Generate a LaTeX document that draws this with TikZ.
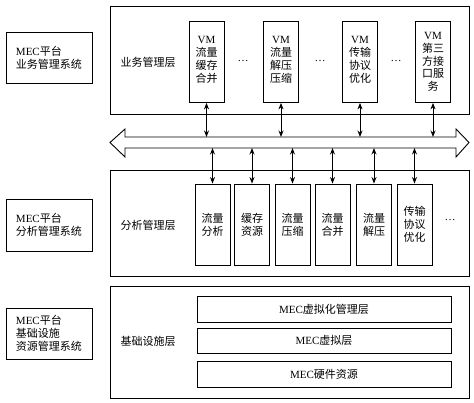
\documentclass[tikz,border=0pt]{standalone}
\usepackage{fontspec}
\setmainfont{Liberation Serif}
\newfontfamily\cjk{Noto Sans CJK SC}
\usetikzlibrary{arrows.meta}
\begin{document}
\begin{tikzpicture}[x=1pt,y=-1pt,
  box/.style={draw, line width=0.9pt, inner sep=0pt, font=\fontsize{11}{12.8}\selectfont, align=center},
  lbl/.style={font=\fontsize{11}{13}\selectfont, align=center},
  ar/.style={{Stealth[length=6.5pt,width=5pt]}-{Stealth[length=6.5pt,width=5pt]}, line width=0.9pt}]
\useasboundingbox (0,0) rectangle (474,403);
% left boxes
\node[box, minimum width=86pt, minimum height=51pt, align=left] (L1) at (49,57.5) {MEC{\cjk 平台}\\{\cjk 业务管理系统}};
\node[box, minimum width=86pt, minimum height=52pt, align=left] (L2) at (49,225) {MEC{\cjk 平台}\\{\cjk 分析管理系统}};
\node[box, minimum width=86pt, minimum height=51pt, align=left] (L3) at (49,333.5) {MEC{\cjk 平台}\\{\cjk 基础设施}\\{\cjk 资源管理系统}};
% big boxes
\node[box, minimum width=359pt, minimum height=108pt] (B1) at (289.5,60) {};
\node[box, minimum width=359pt, minimum height=106pt] (B2) at (289.5,223) {};
\node[box, minimum width=359pt, minimum height=112pt] (B3) at (289.5,342) {};
\node[lbl] (T1) at (148,62) {\cjk 业务管理层};
\node[lbl] (T2) at (148,225) {\cjk 分析管理层};
\node[lbl] (T3) at (148,341) {\cjk 基础设施层};
% VM boxes
\node[box, minimum width=35pt, minimum height=81pt, anchor=north] (v1) at (206.5,21) {\\[-10pt]VM\\\cjk 流量\\\cjk 缓存\\\cjk 合并};
\node[box, minimum width=35pt, minimum height=81pt, anchor=north] (v2) at (281,21) {\\[-10pt]VM\\\cjk 流量\\\cjk 解压\\\cjk 压缩};
\node[box, minimum width=35pt, minimum height=81pt, anchor=north] (v3) at (360,21) {\\[-10pt]VM\\\cjk 传输\\\cjk 协议\\\cjk 优化};
\node[box, minimum width=35pt, minimum height=81pt, anchor=north] (v4) at (433,21) {VM\\\cjk 第三\\\cjk 方接\\\cjk 口服\\\cjk 务};
\node[lbl] (d1) at (243,61) {\ldots};
\node[lbl] (d2) at (320,61) {\ldots};
\node[lbl] (d3) at (396,61) {\ldots};
% bus
\coordinate (bt) at (290,137);
\coordinate (bb) at (290,148);
\draw[line width=0.9pt] (110,142.5) -- (125,129) -- (125,137) -- (456,137) -- (456,129) -- (469,142.5) -- (456,157) -- (456,148) -- (125,148) -- (125,157) -- cycle;
% analysis boxes
\node[box, minimum width=35pt, minimum height=81pt] (a1) at (212.5,224.5) {\cjk 流量\\\cjk 分析};
\node[box, minimum width=35pt, minimum height=81pt] (a2) at (252,224.5) {\cjk 缓存\\\cjk 资源};
\node[box, minimum width=35pt, minimum height=81pt] (a3) at (292.5,224.5) {\cjk 流量\\\cjk 压缩};
\node[box, minimum width=35pt, minimum height=81pt] (a4) at (332.5,224.5) {\cjk 流量\\\cjk 合并};
\node[box, minimum width=35pt, minimum height=81pt] (a5) at (374,224.5) {\cjk 流量\\\cjk 解压};
\node[box, minimum width=35pt, minimum height=81pt] (a6) at (414.5,224.5) {\cjk 传输\\\cjk 协议\\\cjk 优化};
\node[lbl] (d4) at (450,220) {\ldots};
% infra boxes
\node[box, minimum width=254pt, minimum height=26pt] (i1) at (324,309) {MEC{\cjk 虚拟化管理层}};
\node[box, minimum width=254pt, minimum height=25pt] (i2) at (324,340.5) {MEC{\cjk 虚拟层}};
\node[box, minimum width=254pt, minimum height=26pt] (i3) at (324,374) {MEC{\cjk 硬件资源}};
% arrows
\foreach \n in {v1,v2,v3,v4}
  \draw[ar] (\n.south) -- (\n.south |- bt);
\foreach \n in {a1,a2,a3,a4,a5,a6}
  \draw[ar] (bb -| \n.north) -- (\n.north);
\end{tikzpicture}
\end{document}
